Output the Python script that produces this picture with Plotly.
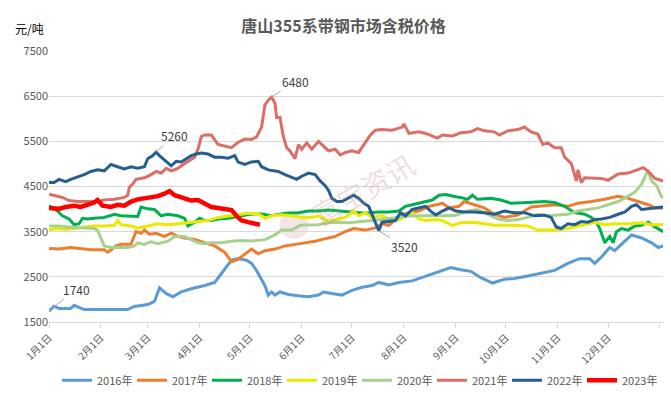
import plotly.graph_objects as go

# ---------------- data (day of year, price in 元/吨) ----------------
month_days = [0, 31, 59, 90, 120, 151, 181, 212, 243, 273, 304, 334, 365]
month_labels = ["1月1日", "2月1日", "3月1日", "4月1日", "5月1日", "6月1日", "7月1日",
                "8月1日", "9月1日", "10月1日", "11月1日", "12月1日", ""]

series_names = ["2016年", "2017年", "2018年", "2019年", "2020年", "2021年", "2022年", "2023年"]

d2016 = [0, 3, 6, 13, 15, 19, 21, 47, 51, 59, 63, 66, 70, 74, 79, 85, 93, 99, 102, 105,
         109, 113, 118, 121, 124, 129, 131, 133, 135, 138, 143, 149, 155, 161, 164, 169, 175, 181, 187, 193,
         197, 203, 209, 217, 225, 233, 240, 246, 252, 258, 265, 272, 278, 286, 294, 302, 310, 317, 323, 326,
         330, 335, 338, 342, 348, 354, 360, 364, 367]
v2016 = [1740, 1850, 1800, 1800, 1870, 1800, 1775, 1775, 1845, 1885, 1955, 2258, 2130, 2060, 2167, 2237, 2307, 2377, 2517, 2658,
         2868, 2903, 2868, 2798, 2640, 2303, 2096, 2165, 2096, 2165, 2110, 2080, 2060, 2096, 2165, 2130, 2096, 2200, 2270, 2306,
         2376, 2320, 2376, 2410, 2517, 2622, 2707, 2658, 2622, 2482, 2363, 2447, 2461, 2517, 2573, 2643, 2798, 2903, 2903, 2798,
         2938, 3149, 3079, 3219, 3430, 3360, 3254, 3149, 3184]

d2017 = [0, 6, 13, 19, 25, 33, 35, 37, 40, 43, 49, 52, 55, 57, 60, 64, 69, 73, 77, 81,
         87, 93, 99, 105, 109, 113, 116, 121, 125, 129, 135, 141, 147, 153, 159, 165, 171, 177, 182, 189,
         195, 199, 203, 209, 215, 221, 227, 232, 235, 239, 245, 248, 254, 260, 266, 272, 280, 288, 296, 302,
         310, 316, 324, 332, 340, 346, 352, 358, 362, 367]
v2017 = [3128, 3114, 3149, 3128, 3100, 3100, 3044, 3093, 3184, 3219, 3219, 3500, 3465, 3535, 3444, 3465, 3395, 3465, 3395, 3360,
         3325, 3254, 3184, 3044, 2833, 2890, 2973, 3114, 3009, 3079, 3114, 3184, 3219, 3254, 3289, 3345, 3395, 3500, 3570, 3535,
         3584, 3675, 3640, 3851, 3921, 3956, 4060, 4100, 4131, 4026, 4061, 4167, 4096, 4026, 3886, 3816, 3865, 4047, 4075, 4096,
         4061, 4131, 4167, 4216, 4286, 4237, 4167, 4096, 4026, 4026]

d2018 = [0, 4, 8, 12, 15, 18, 20, 23, 27, 33, 36, 39, 43, 49, 53, 55, 59, 63, 67, 71,
         77, 81, 83, 87, 90, 93, 97, 101, 107, 113, 119, 125, 133, 141, 149, 155, 161, 167, 173, 181,
         189, 197, 203, 209, 213, 217, 223, 229, 233, 237, 243, 246, 250, 253, 256, 264, 270, 276, 286, 296,
         302, 308, 314, 320, 324, 327, 329, 332, 335, 337, 339, 342, 346, 350, 354, 358, 362, 367]
v2018 = [4075, 3991, 3851, 3781, 3654, 3675, 3795, 3781, 3795, 3816, 3851, 3886, 3851, 3851, 3837, 4047, 4005, 3991, 3851, 3886,
         3851, 3795, 3626, 3710, 3795, 3746, 3746, 3781, 3795, 3837, 3880, 3900, 3851, 3907, 3921, 3956, 3956, 3977, 3956, 3921,
         3907, 3935, 3935, 3956, 4061, 4096, 4145, 4200, 4307, 4321, 4272, 4258, 4216, 4307, 4216, 4237, 4202, 4131, 4145, 4167,
         4145, 4061, 3921, 3886, 3816, 3710, 3570, 3254, 3395, 3254, 3500, 3570, 3535, 3626, 3640, 3710, 3605, 3500]

d2019 = [0, 4, 10, 15, 21, 27, 33, 39, 41, 43, 49, 53, 59, 65, 71, 77, 83, 89, 95, 101,
         107, 113, 119, 125, 129, 133, 139, 145, 151, 157, 161, 167, 173, 177, 182, 185, 189, 193, 199, 203,
         209, 213, 217, 221, 225, 231, 235, 241, 246, 254, 260, 266, 276, 286, 292, 302, 310, 318, 326, 332,
         338, 346, 354, 360, 367]
v2019 = [3535, 3570, 3556, 3570, 3605, 3626, 3626, 3640, 3746, 3654, 3626, 3584, 3626, 3675, 3654, 3675, 3696, 3710, 3746, 3816,
         3851, 3886, 3907, 3900, 3795, 3851, 3872, 3851, 3816, 3816, 3851, 3724, 3781, 3816, 3956, 3851, 3921, 3816, 3851, 3781,
         3767, 3851, 3921, 3781, 3746, 3767, 3746, 3640, 3696, 3710, 3675, 3640, 3640, 3626, 3535, 3535, 3570, 3640, 3710, 3654,
         3675, 3675, 3696, 3654, 3660]

d2020 = [0, 6, 13, 19, 27, 29, 31, 33, 37, 43, 47, 51, 53, 57, 61, 65, 71, 75, 81, 85,
         89, 93, 97, 103, 109, 115, 121, 129, 135, 139, 145, 150, 155, 161, 167, 173, 179, 185, 193, 201,
         209, 217, 225, 232, 235, 243, 250, 256, 262, 268, 274, 280, 286, 292, 298, 304, 310, 316, 322, 328,
         334, 340, 346, 350, 354, 357, 358, 360, 363, 366, 368]
v2020 = [3626, 3626, 3598, 3584, 3570, 3535, 3360, 3184, 3149, 3149, 3149, 3184, 3254, 3219, 3275, 3233, 3289, 3395, 3395, 3325,
         3254, 3233, 3254, 3254, 3289, 3303, 3295, 3324, 3430, 3535, 3535, 3640, 3640, 3654, 3696, 3710, 3696, 3724, 3746, 3781,
         3816, 3851, 3851, 3865, 3851, 3865, 3956, 3991, 3886, 3781, 3746, 3767, 3816, 3886, 3851, 3865, 3886, 3956, 3991, 4026,
         4096, 4167, 4286, 4377, 4553, 4798, 4833, 4623, 4517, 4272, 4237]

d2021 = [0, 4, 8, 12, 17, 23, 29, 33, 39, 45, 47, 48, 50, 52, 57, 61, 64, 67, 70, 73,
         77, 81, 84, 87, 89, 91, 93, 97, 101, 105, 109, 113, 117, 121, 124, 127, 129, 131, 133, 135,
         136, 138, 140, 142, 144, 147, 149, 151, 154, 157, 161, 164, 167, 171, 174, 177, 181, 185, 189, 192,
         195, 199, 205, 211, 212, 215, 221, 225, 232, 235, 241, 246, 252, 256, 260, 266, 269, 274, 280, 284,
         288, 292, 295, 298, 302, 306, 308, 312, 314, 315, 316, 318, 320, 324, 330, 334, 340, 346, 351, 355,
         358, 362, 367]
v2021 = [4328, 4286, 4258, 4188, 4167, 4167, 4167, 4202, 4216, 4258, 4307, 4482, 4553, 4658, 4693, 4763, 4833, 4798, 4903, 4847,
         4903, 5009, 5079, 5149, 5325, 5605, 5640, 5640, 5430, 5395, 5360, 5480, 5550, 5540, 5600, 5816, 6307, 6412, 6480, 6342,
         6026, 6026, 5605, 5360, 5289, 5114, 5430, 5325, 5465, 5325, 5500, 5395, 5289, 5325, 5198, 5254, 5289, 5254, 5465, 5640,
         5746, 5760, 5746, 5816, 5886, 5675, 5710, 5675, 5570, 5640, 5619, 5689, 5710, 5781, 5732, 5710, 5640, 5732, 5760, 5816,
         5710, 5661, 5430, 5465, 5360, 5360, 5149, 5009, 4763, 4623, 4868, 4588, 4693, 4693, 4679, 4637, 4777, 4798, 4868, 4917,
         4833, 4679, 4623]

d2022 = [0, 3, 6, 10, 13, 17, 21, 25, 29, 33, 37, 41, 45, 49, 53, 57, 59, 62, 64, 66,
         68, 71, 73, 76, 79, 82, 85, 88, 91, 95, 99, 103, 107, 111, 113, 117, 121, 125, 127, 131,
         137, 141, 145, 148, 151, 155, 159, 162, 165, 167, 169, 172, 175, 179, 182, 185, 188, 191, 193, 195,
         197, 199, 203, 207, 210, 213, 217, 221, 225, 228, 231, 235, 239, 243, 248, 254, 260, 266, 272, 278,
         284, 290, 296, 300, 303, 306, 310, 314, 318, 322, 326, 330, 335, 340, 344, 348, 351, 354, 358, 362,
         367]
v2022 = [4588, 4588, 4658, 4609, 4658, 4707, 4763, 4833, 4868, 4847, 4988, 4938, 4889, 4938, 4903, 4938, 5114, 5184, 5260, 5184,
         5114, 5009, 4959, 5058, 5044, 5114, 5184, 5219, 5240, 5219, 5149, 5149, 5128, 5184, 5040, 4990, 5044, 5058, 4938, 4868,
         4833, 4763, 4693, 4658, 4728, 4798, 4763, 4623, 4517, 4412, 4237, 4167, 4167, 4237, 4307, 4237, 4131, 4061, 3886, 3675,
         3520, 3710, 3724, 3746, 3921, 3851, 3991, 4026, 4061, 3956, 3870, 3956, 4026, 3956, 3935, 3935, 3921, 3886, 3956, 3921,
         3921, 3851, 3865, 3816, 3605, 3570, 3675, 3654, 3724, 3710, 3767, 3781, 3816, 3886, 3935, 4061, 4096, 3991, 4005, 4026,
         4047]

d2023 = [0, 6, 10, 15, 19, 23, 27, 29, 32, 37, 41, 45, 49, 53, 57, 61, 65, 69, 72, 75,
         78, 81, 85, 89, 93, 97, 101, 105, 109, 112, 115, 119, 123, 126]
v2023 = [4026, 4005, 4047, 4075, 4047, 4096, 4145, 4202, 4075, 4047, 4096, 4075, 4167, 4216, 4237, 4272, 4286, 4342, 4398, 4307,
         4272, 4258, 4188, 4202, 4131, 4047, 4026, 3991, 3977, 3851, 3746, 3710, 3675, 3654]

# ---------------- styling ----------------
colors = ["#5B9BD5", "#ED7D31", "#00B050", "#EAEA00", "#A9D18E", "#DC6E66", "#255E91", "#FF0000"]
widths = [3, 3, 3, 3, 3, 3, 3, 4.5]
all_days = [d2016, d2017, d2018, d2019, d2020, d2021, d2022, d2023]
all_vals = [v2016, v2017, v2018, v2019, v2020, v2021, v2022, v2023]

FONT = "Noto Sans CJK SC"
GREY = "#595959"

fig = go.Figure()
for name, d, v, c, w in zip(series_names, all_days, all_vals, colors, widths):
    fig.add_trace(go.Scatter(x=d, y=v, mode="lines", name=name,
                             line=dict(color=c, width=w), hoverinfo="x+y+name"))

# data labels
i_5260 = max(range(len(v2022)), key=lambda i: v2022[i] if d2022[i] < 120 else 0)
i_6480 = max(range(len(v2021)), key=lambda i: v2021[i])
i_3520 = min(range(len(v2022)), key=lambda i: v2022[i] if d2022[i] > 150 else 99999)
labels = [
    (d2016[0], v2016[0], 27, -22),
    (d2022[i_5260], v2022[i_5260], 18, -17),
    (d2021[i_6480], v2021[i_6480], 24, -16),
    (d2022[i_3520], v2022[i_3520], 26, 16),
]
annotations = []
for x, y, ax, ay in labels:
    annotations.append(dict(x=x, y=y, xref="x", yref="y", text=str(y), showarrow=True,
                            arrowhead=0, arrowwidth=1, arrowcolor="#A6A6A6", ax=ax, ay=ay,
                            standoff=0, font=dict(family=FONT, size=12, color="#404040")))

# unit label
annotations.append(dict(x=-0.058, y=1.082, xref="paper", yref="paper", text="元/吨",
                        showarrow=False, xanchor="left", yanchor="middle",
                        font=dict(family=FONT, size=12, color="#000000")))
# watermark
annotations.append(dict(x=0.51, y=0.49, xref="paper", yref="paper", text="富宝资讯",
                        showarrow=False, textangle=-30,
                        font=dict(family=FONT, size=28, color="rgba(200,140,140,0.30)")))

fig.update_layout(
    width=671, height=399,
    margin=dict(l=41, r=14, t=43, b=71),
    paper_bgcolor="white", plot_bgcolor="white",
    title=dict(text="<b>唐山355系带钢市场含税价格</b>", x=0.5, xanchor="center",
               y=0.955, yanchor="middle", yref="container",
               font=dict(family=FONT, size=16, color=GREY)),
    xaxis=dict(range=[0, 368], tickmode="array", tickvals=month_days, ticktext=month_labels,
               tickangle=-45, ticks="outside", ticklen=5, tickcolor="#D9D9D9",
               showgrid=False, showline=True, linecolor="#D9D9D9", linewidth=1,
               zeroline=False, tickfont=dict(family=FONT, size=10, color=GREY)),
    yaxis=dict(range=[1500, 7500], dtick=1000, tick0=1500, showgrid=True, gridcolor="#D9D9D9",
               gridwidth=1, zeroline=False, showline=False,
               tickfont=dict(family=FONT, size=11, color=GREY)),
    legend=dict(orientation="h", x=0.5, xanchor="center", y=-0.215, yanchor="middle",
                font=dict(family=FONT, size=11, color=GREY), itemwidth=30,
                entrywidth=30, entrywidthmode="pixels", tracegroupgap=0),
    shapes=[dict(type="circle", xref="paper", yref="paper", x0=0.374, x1=0.422, y0=0.306, y1=0.412,
                 fillcolor="rgba(200,140,140,0.22)", line=dict(width=0), layer="below")],
    annotations=annotations,
    showlegend=True,
)

fig.write_html("out.html")
